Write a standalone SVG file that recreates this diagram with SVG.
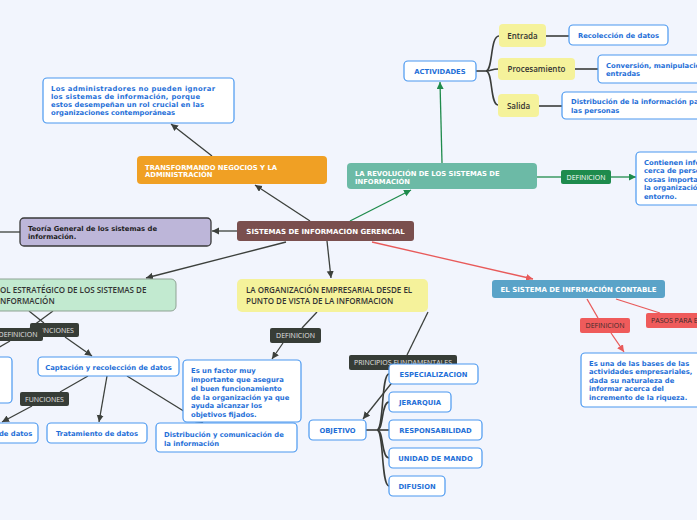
<svg xmlns="http://www.w3.org/2000/svg" width="697" height="520" viewBox="0 0 697 520">
<defs>
<marker id="ad" markerUnits="userSpaceOnUse" markerWidth="8" markerHeight="8" refX="7" refY="3.5" orient="auto"><path d="M0,0 L7,3.5 L0,7 z" fill="#3c403c"/></marker>
<marker id="ag" markerUnits="userSpaceOnUse" markerWidth="8" markerHeight="8" refX="7" refY="3.5" orient="auto"><path d="M0,0 L7,3.5 L0,7 z" fill="#1f8b4c"/></marker>
<marker id="ar" markerUnits="userSpaceOnUse" markerWidth="8" markerHeight="8" refX="7" refY="3.5" orient="auto"><path d="M0,0 L7,3.5 L0,7 z" fill="#e85a5a"/></marker>
</defs>
<style>
.wb{fill:#ffffff;stroke:#4a98f0;stroke-width:1.2}
.bt{font-family:"DejaVu Sans",Verdana,sans-serif;font-weight:bold;font-size:6.8px;fill:#1f70d8}
.wt{font-family:"DejaVu Sans",Verdana,sans-serif;font-weight:bold;font-size:6.8px;fill:#ffffff}
.dt{font-family:"DejaVu Sans",Verdana,sans-serif;font-weight:bold;font-size:6.8px;fill:#1e1e1e}
.yt{font-family:"Open Sans","Liberation Sans",sans-serif;font-weight:600;font-size:8px;fill:#333333}
.lb{fill:#373d37}
.lt{font-family:"Open Sans","Liberation Sans",sans-serif;font-size:7px;fill:#e2e2e2}
.yb{fill:#f5f29b}
.c{fill:none;stroke:#3c403c;stroke-width:1.3}
.cb{fill:none;stroke:#3a3d3a;stroke-width:1.6}
.cg{fill:none;stroke:#1f8b4c;stroke-width:1.3}
.cr{fill:none;stroke:#e85a5a;stroke-width:1.3}
.m{text-anchor:middle}
</style>
<rect x="0" y="0" width="697" height="520" fill="#f2f5fd"/>
<g id="connectors">
<path class="c" d="M310,221 L255,185" marker-end="url(#ad)"/>
<path class="c" d="M212,156 L171,124" marker-end="url(#ad)"/>
<path class="c" d="M237,231 L212,231" marker-end="url(#ad)"/>
<path class="c" d="M20,232 L0,232"/>
<path class="c" d="M286,242 L146,278" marker-end="url(#ad)"/>
<path class="c" d="M327,241 L331,278" marker-end="url(#ad)"/>
<path class="c" d="M29,311 L44,323"/>
<path class="c" d="M53,311 L30,328"/>
<path class="c" d="M10,341 L-2,348"/>
<path class="c" d="M65,337 L92,356" marker-end="url(#ad)"/>
<path class="c" d="M88,376 L60,392"/>
<path class="c" d="M32,406 L2,422" marker-end="url(#ad)"/>
<path class="c" d="M107,376 L99,422" marker-end="url(#ad)"/>
<path class="c" d="M127,376 L203,423" marker-end="url(#ad)"/>
<path class="c" d="M317,312 L302,328"/>
<path class="c" d="M283,343 L272,359" marker-end="url(#ad)"/>
<path class="c" d="M428,312 L407,355"/>
<path class="c" d="M402,370 L363,419" marker-end="url(#ad)"/>
<path class="cb" d="M366,430 L378,430"/>
<path class="cb" d="M377,430 C384,430 381,374 389,374"/>
<path class="cb" d="M377,430 C384,430 381,402 389,402"/>
<path class="cb" d="M377,430 L389,430"/>
<path class="cb" d="M377,430 C384,430 381,458 389,458"/>
<path class="cb" d="M377,430 C384,430 381,486 389,486"/>
<path class="cb" d="M476,71 L487,71"/>
<path class="cb" d="M486,71 C493,71 490,36 499,36"/>
<path class="cb" d="M486,71 C492,71 491,69 498,69"/>
<path class="cb" d="M486,71 C493,71 490,105 498,105"/>
<path class="cb" d="M546,36 L569,36"/>
<path class="cb" d="M575,69 L598,69"/>
<path class="cb" d="M539,106 L562,106"/>
<path class="cg" d="M350,221 L411,190" marker-end="url(#ag)"/>
<path class="cg" d="M442,163 L440,82" marker-end="url(#ag)"/>
<path class="cg" d="M537,177 L561,177"/>
<path class="cg" d="M611,177 L636,177" marker-end="url(#ag)"/>
<path class="cr" d="M372,242 L533,279" marker-end="url(#ar)"/>
<path class="cr" d="M587,299 L598,318"/>
<path class="cr" d="M611,333 L624,352" marker-end="url(#ar)"/>
<path class="cr" d="M616,299 L660,313"/>
</g>
<g id="n-centro"><rect x="237" y="221" width="177" height="20" rx="3" fill="#7a4f4e"/><text class="wt m" x="325.5" y="234" style="font-size:7px">SISTEMAS DE INFORMACION GERENCIAL</text></g>
<g id="n-transformando"><rect x="137" y="156" width="190" height="28" rx="4" fill="#f0a024"/><text class="wt" x="145" y="169.5">TRANSFORMANDO NEGOCIOS Y LA</text><text class="wt" x="145" y="177">ADMINISTRACIÓN</text></g>
<g id="n-administradores"><rect class="wb" x="43" y="78" width="191" height="45" rx="4"/>
<text class="bt" x="51" y="90.5" textLength="164" lengthAdjust="spacing">Los administradores no pueden ignorar</text>
<text class="bt" x="51" y="98.5" textLength="149" lengthAdjust="spacing">los sistemas de información, porque</text>
<text class="bt" x="51" y="107" textLength="153" lengthAdjust="spacing">estos desempeñan un rol crucial en las</text>
<text class="bt" x="51" y="115">organizaciones contemporáneas</text></g>
<g id="n-teoria"><rect x="20" y="218" width="191" height="28" rx="4" fill="#bdb6d9" stroke="#3a3a3a" stroke-width="1.3"/><text class="dt" x="28" y="230.5">Teoría General de los sistemas de</text><text class="dt" x="28" y="239">información.</text></g>
<g id="n-rol"><rect x="-10" y="279" width="186" height="32" rx="5" fill="#c2ead0" stroke="#8fa394" stroke-width="1"/><text class="yt" x="0" y="293">OL ESTRATÉGICO DE LOS SISTEMAS DE</text><text class="yt" x="0" y="304">NFORMACIÓN</text></g>
<g id="n-izq"><rect class="wb" x="-10" y="357" width="22" height="46" rx="4"/></g>
<g id="l-funciones1"><rect class="lb" x="30" y="323" width="49" height="14" rx="2"/><text class="lt m" x="54.5" y="332.5">FUNCIONES</text></g>
<g id="l-definicion1"><rect class="lb" x="-6" y="328" width="49" height="13" rx="2"/><text class="lt m" x="18" y="337">DEFINICION</text></g>
<g id="n-captacion"><rect class="wb" x="38" y="357" width="141" height="19" rx="4"/><text class="bt m" x="108.5" y="369.5">Captación y recolección de datos</text></g>
<g id="l-funciones2"><rect class="lb" x="20" y="392" width="49" height="14" rx="2"/><text class="lt m" x="44.5" y="401.5">FUNCIONES</text></g>
<g id="n-dedatos"><rect class="wb" x="-30" y="423" width="68" height="20" rx="4"/><text class="bt" x="-1" y="436">de datos</text></g>
<g id="n-tratamiento"><rect class="wb" x="47" y="423" width="100" height="20" rx="4"/><text class="bt m" x="97" y="436">Tratamiento de datos</text></g>
<g id="n-distribucion"><rect class="wb" x="156" y="423" width="141" height="29" rx="4"/><text class="bt" x="164" y="436.5">Distribución y comunicación de</text><text class="bt" x="164" y="445.5">la información</text></g>
<g id="n-factor"><rect class="wb" x="183" y="360" width="118" height="62" rx="4"/>
<text class="bt" x="191" y="372.5">Es un factor muy</text>
<text class="bt" x="191" y="381.5">importante que asegura</text>
<text class="bt" x="191" y="390.5">el buen funcionamiento</text>
<text class="bt" x="191" y="399.5">de la organización ya que</text>
<text class="bt" x="191" y="407.5">ayuda alcanzar los</text>
<text class="bt" x="191" y="416.5">objetivos fijados.</text></g>
<g id="n-organizacion"><rect class="yb" x="237" y="279" width="191" height="33" rx="5"/><text class="yt" x="246" y="293">LA ORGANIZACIÓN EMPRESARIAL DESDE EL</text><text class="yt" x="246" y="304">PUNTO DE VISTA DE LA INFORMACION</text></g>
<g id="l-definicion2"><rect class="lb" x="270" y="328" width="51" height="15" rx="2"/><text class="lt m" x="295.5" y="338">DEFINICION</text></g>
<g id="l-principios"><rect class="lb" x="349" y="355" width="108" height="15" rx="2"/><text class="lt m" x="403" y="365">PRINCIPIOS FUNDAMENTALES</text></g>
<g id="n-objetivo"><rect class="wb" x="309" y="420" width="57" height="20" rx="4"/><text class="bt m" x="337.5" y="433">OBJETIVO</text></g>
<g id="n-especializacion"><rect class="wb" x="389" y="364" width="89" height="20" rx="4"/><text class="bt m" x="433.5" y="377">ESPECIALIZACION</text></g>
<g id="n-jerarquia"><rect class="wb" x="389" y="392" width="62" height="20" rx="4"/><text class="bt m" x="420" y="405">JERARQUIA</text></g>
<g id="n-responsabilidad"><rect class="wb" x="389" y="420" width="93" height="20" rx="4"/><text class="bt m" x="435.5" y="433">RESPONSABILIDAD</text></g>
<g id="n-unidad"><rect class="wb" x="389" y="448" width="93" height="20" rx="4"/><text class="bt m" x="435.5" y="461">UNIDAD DE MANDO</text></g>
<g id="n-difusion"><rect class="wb" x="389" y="476" width="56" height="20" rx="4"/><text class="bt m" x="417" y="489">DIFUSION</text></g>
<g id="n-revolucion"><rect x="347" y="163" width="190" height="26" rx="4" fill="#6cbaa6"/><text class="wt" x="355" y="175.5">LA REVOLUCIÓN DE LOS SISTEMAS DE</text><text class="wt" x="355" y="183.5">INFORMACIÓN</text></g>
<g id="n-actividades"><rect class="wb" x="404" y="61" width="72" height="20" rx="4"/><text class="bt m" x="440" y="74">ACTIVIDADES</text></g>
<g id="n-entrada"><rect class="yb" x="499" y="24" width="47" height="23" rx="4"/><text class="yt m" x="522.5" y="38.5">Entrada</text></g>
<g id="n-procesamiento"><rect class="yb" x="498" y="58" width="77" height="22" rx="4"/><text class="yt m" x="536.5" y="72">Procesamiento</text></g>
<g id="n-salida"><rect class="yb" x="498" y="94" width="41" height="23" rx="4"/><text class="yt m" x="518.5" y="108.5">Salida</text></g>
<g id="n-recoleccion"><rect class="wb" x="569" y="25" width="99" height="20" rx="4"/><text class="bt m" x="618.5" y="38">Recolección de datos</text></g>
<g id="n-conversion"><rect class="wb" x="598" y="55" width="110" height="28" rx="4"/><text class="bt" x="606" y="67.5">Conversión, manipulación</text><text class="bt" x="606" y="76">entradas</text></g>
<g id="n-distribucion2"><rect class="wb" x="562" y="92" width="145" height="27" rx="4"/><text class="bt" x="571" y="103.5">Distribución de la información para</text><text class="bt" x="571" y="112.5">las personas</text></g>
<g id="l-definicion3"><rect x="561" y="170" width="50" height="14" rx="2" fill="#1e8b4d"/><text class="lt m" x="586" y="179.5" style="fill:#ffffff">DEFINICION</text></g>
<g id="n-contienen"><rect class="wb" x="636" y="152" width="80" height="53" rx="4"/>
<text class="bt" x="644" y="164.5">Contienen información</text>
<text class="bt" x="644" y="173">cerca de personas</text>
<text class="bt" x="644" y="181.5">cosas  importantes</text>
<text class="bt" x="644" y="190">la organización</text>
<text class="bt" x="644" y="198.5">entorno.</text></g>
<g id="n-contable"><rect x="492" y="280" width="173" height="18" rx="3" fill="#5aa3c8"/><text class="wt m" x="578.5" y="291.5" style="font-size:7px">EL SISTEMA DE INFRMACIÓN CONTABLE</text></g>
<g id="l-definicion4"><rect x="580" y="318" width="50" height="15" rx="2" fill="#ef5b5b"/><text class="lt m" x="605" y="328" style="fill:#3a2a2a">DEFINICION</text></g>
<g id="l-pasos"><rect x="646" y="313" width="60" height="15" rx="2" fill="#ef5b5b"/><text class="lt" x="651" y="322.5" style="fill:#3a2a2a">PASOS PARA EL</text></g>
<g id="n-esuna"><rect class="wb" x="581" y="353" width="125" height="54" rx="4"/>
<text class="bt" x="589" y="365.5">Es una de las bases de las</text>
<text class="bt" x="589" y="374">actividades empresariales,</text>
<text class="bt" x="589" y="382.5">dada su naturaleza de</text>
<text class="bt" x="589" y="391">informar acerca del</text>
<text class="bt" x="589" y="399.5">incremento de la riqueza.</text></g>
</svg>
